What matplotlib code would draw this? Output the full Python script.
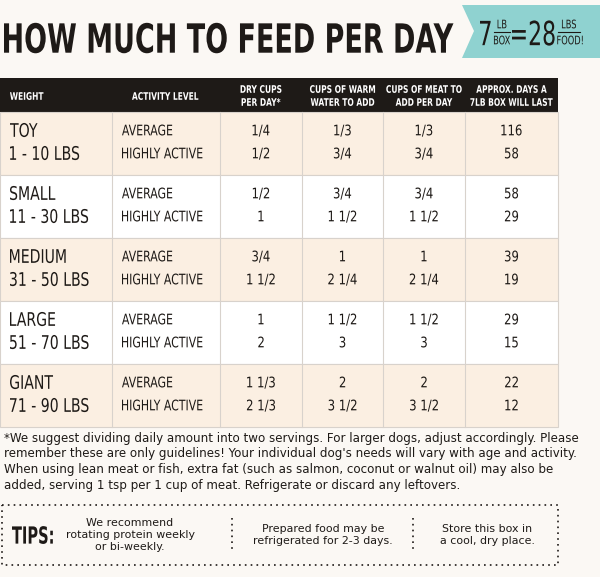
import matplotlib
matplotlib.use('Agg')
import matplotlib.pyplot as plt
from matplotlib.patches import Rectangle, Polygon, PathPatch
from matplotlib.textpath import TextPath
from matplotlib.font_manager import FontProperties
from matplotlib.transforms import Affine2D

sizes = ['TOY', 'SMALL', 'MEDIUM', 'LARGE', 'GIANT']
ranges = ['1 - 10 LBS', '11 - 30 LBS', '31 - 50 LBS', '51 - 70 LBS', '71 - 90 LBS']
dry = [('1/4', '1/2'), ('1/2', '1'), ('3/4', '1 1/2'), ('1', '2'), ('1 1/3', '2 1/3')]
water = [('1/3', '3/4'), ('3/4', '1 1/2'), ('1', '2 1/4'), ('1 1/2', '3'), ('2', '3 1/2')]
meat = [('1/3', '3/4'), ('3/4', '1 1/2'), ('1', '2 1/4'), ('1 1/2', '3'), ('2', '3 1/2')]
days = [('116', '58'), ('58', '29'), ('39', '19'), ('29', '15'), ('22', '12')]
headers = ['WEIGHT', 'ACTIVITY LEVEL', 'DRY CUPS\nPER DAY*', 'CUPS OF WARM\nWATER TO ADD',
           'CUPS OF MEAT TO\nADD PER DAY', 'APPROX. DAYS A\n7LB BOX WILL LAST']
footnote = ("*We suggest dividing daily amount into two servings. For larger dogs, adjust accordingly. Please\n"
            "remember these are only guidelines! Your individual dog's needs will vary with age and activity.\n"
            "When using lean meat or fish, extra fat (such as salmon, coconut or walnut oil) may also be\n"
            "added, serving 1 tsp per 1 cup of meat. Refrigerate or discard any leftovers.")
tips = ['We recommend\nrotating protein weekly\nor bi-weekly.',
        'Prepared food may be\nrefrigerated for 2-3 days.',
        'Store this box in\na cool, dry place.']

BG = '#fbf8f4'
BEIGE = '#fbefe2'
INK = '#1e1a17'

fig = plt.figure(figsize=(6, 5.77), dpi=100, facecolor=BG)
ax = fig.add_axes([0, 0, 1, 1])
ax.set_xlim(0, 600); ax.set_ylim(577, 0); ax.axis('off')


def narrow(x, y, s, fs, sx=0.72, ha='left', weight='normal', color=INK):
    # condensed text: glyph outlines squeezed horizontally, y is the vertical centre
    fp = FontProperties(family='DejaVu Sans', weight=weight)
    px = fs * 100 / 72
    tp = TextPath((0, 0), s, size=px, prop=fp)
    ext = tp.get_extents()
    w = ext.width * sx
    x0 = {'left': x, 'center': x - w / 2, 'right': x - w}[ha] - ext.x0 * sx
    capc = px * 0.73 / 2
    tr = Affine2D().scale(sx, -1).translate(x0, y + capc)
    ax.add_patch(PathPatch(tr.transform_path(tp), color=color, lw=0))


narrow(4, 38, 'HOW MUCH TO FEED PER DAY', 29, sx=0.67, weight='bold')
ax.add_patch(Polygon([(462, 5), (600, 5), (600, 58), (462, 58), (474, 31)],
                     closed=True, color='#8fd2d0', lw=0))
narrow(480, 33, '7', 24, sx=0.68)
narrow(502, 24, 'LB', 8.5, ha='center', sx=0.7)
ax.plot([494, 510], [32, 32], color=INK, lw=0.8)
narrow(502, 40, 'BOX', 8.5, ha='center', sx=0.7)
narrow(512, 33, '=28', 24, sx=0.66)
narrow(569, 24, 'LBS', 8.5, ha='center', sx=0.7)
ax.plot([558, 580], [32, 32], color=INK, lw=0.8)
narrow(570, 40, 'FOOD!', 8.5, ha='center', sx=0.7)

cols = [0, 112, 220, 302, 383, 465, 558]
ax.add_patch(Rectangle((0, 78), 558, 34, color=INK, lw=0))
for i, h in enumerate(headers):
    lines = h.split('\n')
    if i < 2:
        x, ha = (cols[i] + 10 if i == 0 else cols[i] + 20), 'left'
    else:
        x, ha = (cols[i] + cols[i + 1]) / 2, 'center'
    ys = [96] if len(lines) == 1 else [89, 102]
    for yy, ln in zip(ys, lines):
        narrow(x, yy, ln, 7.5, sx=0.72, ha=ha, weight='bold', color='white')

top, rh = 112, 63
for r in range(len(sizes)):
    y0 = top + r * rh
    ax.add_patch(Rectangle((0, y0), 558, rh, facecolor=BEIGE if r % 2 == 0 else 'white',
                           edgecolor='#d8d2cc', lw=0.8))
    ya, yb = y0 + 18, y0 + 41
    narrow(10, ya, sizes[r], 13.5, sx=0.75)
    narrow(10, yb, ranges[r], 13.5, sx=0.75)
    narrow(122, ya, 'AVERAGE', 10.5, sx=0.75)
    narrow(122, yb, 'HIGHLY ACTIVE', 10.5, sx=0.75)
    for c, vals in enumerate([dry, water, meat, days]):
        xc = (cols[c + 2] + cols[c + 3]) / 2
        narrow(xc, ya, vals[r][0], 10.5, sx=0.8, ha='center')
        narrow(xc, yb, vals[r][1], 10.5, sx=0.8, ha='center')
for x in cols[1:-1]:
    ax.plot([x, x], [top, top + 5 * rh], color='#d8d2cc', lw=0.8)

ax.text(4, 432, footnote, fontsize=8.6, family='DejaVu Sans', color=INK, va='top',
        linespacing=1.25)

dot = dict(color=INK, lw=1.2, linestyle=(0, (1, 2.5)))
ax.plot([2, 558, 558, 2, 2], [505, 505, 565, 565, 505], **dot)
ax.plot([232, 232], [518, 552], **dot)
ax.plot([413, 413], [518, 552], **dot)
narrow(12, 535, 'TIPS:', 17, sx=0.62, weight='bold')
for x, t in zip([130, 323, 487], tips):
    ax.text(x, 535, t, fontsize=7.9, family='DejaVu Sans', color=INK, ha='center',
            va='center', linespacing=1.3)

fig.savefig('out.png', dpi=100, facecolor=BG)
